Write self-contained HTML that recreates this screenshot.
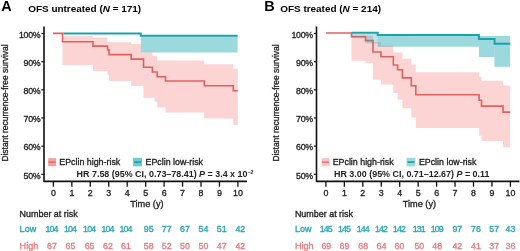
<!DOCTYPE html>
<html><head><meta charset="utf-8"><style>
html,body{margin:0;padding:0;background:#fff;}
svg{display:block;}
text{font-family:"Liberation Sans", Arial, sans-serif;}
</style></head><body>
<svg width="520" height="251" viewBox="0 0 520 251">
<rect width="520" height="251" fill="#fff"/>
<text x="1.3" y="11.4" font-size="14.5" font-weight="bold">A</text>
<text x="28.2" y="12.25" font-size="9.95" font-weight="bold">OFS untreated (<tspan font-style="italic">N</tspan> = 171)</text>
<path d="M62.5 35.7 L93 35.7 L93 37.5 L107.5 37.5 L107.5 42.3 L109 42.3 L109 42.3 L131.2 42.3 L131.2 44 L140.8 44 L140.8 52.5 L143.5 52.5 L143.5 52.5 L152.4 52.5 L152.4 56 L154.5 56 L154.5 56 L157.2 56 L157.2 60.6 L165.5 60.6 L165.5 60.6 L204.3 60.6 L204.3 64.3 L233.3 64.3 L233.3 68.7 L237.8 68.7 L237.8 124.9 L233.3 124.9 L233.3 118.5 L204.3 118.5 L204.3 112.5 L165.5 112.5 L165.5 107.3 L157.2 107.3 L157.2 101.8 L154.5 101.8 L154.5 97.8 L152.4 97.8 L152.4 97.8 L143.5 97.8 L143.5 85.9 L140.8 85.9 L140.8 85.9 L131.2 85.9 L131.2 80.9 L109 80.9 L109 75 L107.5 75 L107.5 70.9 L93 70.9 L93 64.9 L62.5 64.9 Z" fill="#fcd4d4"/>
<path d="M53 33.4 H62.5 V41.7 H93 V46.1 H107.5 V49.7 H109 V54.6 H131.2 V59.1 H143.5 V67.3 H152.4 V72.0 H157.2 V76.8 H165.5 V81.0 H204.3 V85.8 H233.3 V90.8 H237.8" fill="none" stroke="#e0605f" stroke-width="1.6"/>
<rect x="140.8" y="36.5" width="96.80" height="16.00" fill="#1aa6b0" fill-opacity="0.43"/>
<path d="M63.3 33.4 H140.8 V35.7 H237.6" fill="none" stroke="#1ba3ab" stroke-width="2.0"/>
<path d="M44 26.5 V181.4 H247" fill="none" stroke="#111" stroke-width="1.6" stroke-linejoin="round"/>
<path d="M41.3 33.50 H44" stroke="#111" stroke-width="1.2"/>
<text x="40.4" y="37.70" font-size="8.8" letter-spacing="-0.25" text-anchor="end" fill="#222" stroke="#222" stroke-width="0.32">100%</text>
<path d="M41.3 61.66 H44" stroke="#111" stroke-width="1.2"/>
<text x="40.4" y="65.86" font-size="8.8" letter-spacing="-0.25" text-anchor="end" fill="#222" stroke="#222" stroke-width="0.32">90%</text>
<path d="M41.3 89.82 H44" stroke="#111" stroke-width="1.2"/>
<text x="40.4" y="94.02" font-size="8.8" letter-spacing="-0.25" text-anchor="end" fill="#222" stroke="#222" stroke-width="0.32">80%</text>
<path d="M41.3 117.98 H44" stroke="#111" stroke-width="1.2"/>
<text x="40.4" y="122.18" font-size="8.8" letter-spacing="-0.25" text-anchor="end" fill="#222" stroke="#222" stroke-width="0.32">70%</text>
<path d="M41.3 146.14 H44" stroke="#111" stroke-width="1.2"/>
<text x="40.4" y="150.34" font-size="8.8" letter-spacing="-0.25" text-anchor="end" fill="#222" stroke="#222" stroke-width="0.32">60%</text>
<path d="M41.3 174.30 H44" stroke="#111" stroke-width="1.2"/>
<text x="40.4" y="178.50" font-size="8.8" letter-spacing="-0.25" text-anchor="end" fill="#222" stroke="#222" stroke-width="0.32">50%</text>
<path d="M53.40 181.5 V186.7" stroke="#111" stroke-width="1.3"/>
<text x="53.40" y="196" font-size="8.85" text-anchor="middle" fill="#222" stroke="#222" stroke-width="0.32">0</text>
<path d="M71.85 181.5 V186.7" stroke="#111" stroke-width="1.3"/>
<text x="71.85" y="196" font-size="8.85" text-anchor="middle" fill="#222" stroke="#222" stroke-width="0.32">1</text>
<path d="M90.30 181.5 V186.7" stroke="#111" stroke-width="1.3"/>
<text x="90.30" y="196" font-size="8.85" text-anchor="middle" fill="#222" stroke="#222" stroke-width="0.32">2</text>
<path d="M108.75 181.5 V186.7" stroke="#111" stroke-width="1.3"/>
<text x="108.75" y="196" font-size="8.85" text-anchor="middle" fill="#222" stroke="#222" stroke-width="0.32">3</text>
<path d="M127.20 181.5 V186.7" stroke="#111" stroke-width="1.3"/>
<text x="127.20" y="196" font-size="8.85" text-anchor="middle" fill="#222" stroke="#222" stroke-width="0.32">4</text>
<path d="M145.65 181.5 V186.7" stroke="#111" stroke-width="1.3"/>
<text x="145.65" y="196" font-size="8.85" text-anchor="middle" fill="#222" stroke="#222" stroke-width="0.32">5</text>
<path d="M164.10 181.5 V186.7" stroke="#111" stroke-width="1.3"/>
<text x="164.10" y="196" font-size="8.85" text-anchor="middle" fill="#222" stroke="#222" stroke-width="0.32">6</text>
<path d="M182.55 181.5 V186.7" stroke="#111" stroke-width="1.3"/>
<text x="182.55" y="196" font-size="8.85" text-anchor="middle" fill="#222" stroke="#222" stroke-width="0.32">7</text>
<path d="M201.00 181.5 V186.7" stroke="#111" stroke-width="1.3"/>
<text x="201.00" y="196" font-size="8.85" text-anchor="middle" fill="#222" stroke="#222" stroke-width="0.32">8</text>
<path d="M219.45 181.5 V186.7" stroke="#111" stroke-width="1.3"/>
<text x="219.45" y="196" font-size="8.85" text-anchor="middle" fill="#222" stroke="#222" stroke-width="0.32">9</text>
<path d="M237.90 181.5 V186.7" stroke="#111" stroke-width="1.3"/>
<text x="237.90" y="196" font-size="8.85" text-anchor="middle" fill="#222" stroke="#222" stroke-width="0.32">10</text>
<text x="146.9" y="206.55" font-size="9.2" text-anchor="middle" fill="#222" stroke="#222" stroke-width="0.32">Time (y)</text>
<text transform="translate(8.1 103) rotate(-90)" font-size="8.45" text-anchor="middle" fill="#222" stroke="#222" stroke-width="0.32">Distant recurrence-free survival</text>
<rect x="48.2" y="158.1" width="7.8" height="8.1" fill="#f6a0a0"/>
<path d="M49 162.1 H55.2" stroke="#e0605f" stroke-width="1.3" stroke-linecap="round"/>
<text x="59.3" y="165.45" font-size="8.85" fill="#222" stroke="#222" stroke-width="0.32">EPclin high-risk</text>
<rect x="133.1" y="157.8" width="8.9" height="8.6" fill="#6fcbd0"/>
<path d="M134.6 162.1 H140.5" stroke="#1ba3ab" stroke-width="1.6" stroke-linecap="round"/>
<text x="145.5" y="165.45" font-size="8.85" fill="#222" stroke="#222" stroke-width="0.32">EPclin low-risk</text>
<text x="76.6" y="177.1" font-size="8.93" font-weight="bold" fill="#222">HR 7.58 (95% CI, 0.73–78.41) <tspan font-style="italic">P</tspan> = 3.4 x 10<tspan font-size="5.3" dy="-3.4">−2</tspan></text>
<text x="19.6" y="216.9" font-size="8.95" fill="#222" stroke="#222" stroke-width="0.32">Number at risk</text>
<text x="19.6" y="232.3" font-size="9.05" fill="#26a5b1" stroke="#26a5b1" stroke-width="0.32">Low</text>
<text x="19.6" y="248.7" font-size="9.1" fill="#e67b7d" stroke="#e67b7d" stroke-width="0.32">High</text>
<text x="51.449999999999996" y="232.3" font-size="8.85" text-anchor="middle" letter-spacing="-0.9" fill="#26a5b1" stroke="#26a5b1" stroke-width="0.32">104</text>
<text x="70.05" y="232.3" font-size="8.85" text-anchor="middle" letter-spacing="-0.9" fill="#26a5b1" stroke="#26a5b1" stroke-width="0.32">104</text>
<text x="89.14999999999999" y="232.3" font-size="8.85" text-anchor="middle" letter-spacing="-0.9" fill="#26a5b1" stroke="#26a5b1" stroke-width="0.32">104</text>
<text x="107.55" y="232.3" font-size="8.85" text-anchor="middle" letter-spacing="-0.9" fill="#26a5b1" stroke="#26a5b1" stroke-width="0.32">104</text>
<text x="125.55" y="232.3" font-size="8.85" text-anchor="middle" letter-spacing="-0.9" fill="#26a5b1" stroke="#26a5b1" stroke-width="0.32">104</text>
<text x="148.7" y="232.3" font-size="8.85" text-anchor="middle" fill="#26a5b1" stroke="#26a5b1" stroke-width="0.32">95</text>
<text x="166.7" y="232.3" font-size="8.85" text-anchor="middle" fill="#26a5b1" stroke="#26a5b1" stroke-width="0.32">77</text>
<text x="184.9" y="232.3" font-size="8.85" text-anchor="middle" fill="#26a5b1" stroke="#26a5b1" stroke-width="0.32">67</text>
<text x="203.4" y="232.3" font-size="8.85" text-anchor="middle" fill="#26a5b1" stroke="#26a5b1" stroke-width="0.32">54</text>
<text x="221.7" y="232.3" font-size="8.85" text-anchor="middle" fill="#26a5b1" stroke="#26a5b1" stroke-width="0.32">51</text>
<text x="240.3" y="232.3" font-size="8.85" text-anchor="middle" fill="#26a5b1" stroke="#26a5b1" stroke-width="0.32">42</text>
<text x="51.9" y="248.6" font-size="8.85" text-anchor="middle" fill="#e67b7d" stroke="#e67b7d" stroke-width="0.32">67</text>
<text x="70.5" y="248.6" font-size="8.85" text-anchor="middle" fill="#e67b7d" stroke="#e67b7d" stroke-width="0.32">65</text>
<text x="89.6" y="248.6" font-size="8.85" text-anchor="middle" fill="#e67b7d" stroke="#e67b7d" stroke-width="0.32">65</text>
<text x="108" y="248.6" font-size="8.85" text-anchor="middle" fill="#e67b7d" stroke="#e67b7d" stroke-width="0.32">62</text>
<text x="126" y="248.6" font-size="8.85" text-anchor="middle" fill="#e67b7d" stroke="#e67b7d" stroke-width="0.32">61</text>
<text x="148.7" y="248.6" font-size="8.85" text-anchor="middle" fill="#e67b7d" stroke="#e67b7d" stroke-width="0.32">58</text>
<text x="166.7" y="248.6" font-size="8.85" text-anchor="middle" fill="#e67b7d" stroke="#e67b7d" stroke-width="0.32">52</text>
<text x="184.9" y="248.6" font-size="8.85" text-anchor="middle" fill="#e67b7d" stroke="#e67b7d" stroke-width="0.32">50</text>
<text x="203.4" y="248.6" font-size="8.85" text-anchor="middle" fill="#e67b7d" stroke="#e67b7d" stroke-width="0.32">50</text>
<text x="221.7" y="248.6" font-size="8.85" text-anchor="middle" fill="#e67b7d" stroke="#e67b7d" stroke-width="0.32">47</text>
<text x="240.3" y="248.6" font-size="8.85" text-anchor="middle" fill="#e67b7d" stroke="#e67b7d" stroke-width="0.32">42</text>
<text x="264.2" y="11.4" font-size="14.5" font-weight="bold">B</text>
<text x="280.2" y="12.25" font-size="9.95" font-weight="bold">OFS treated (<tspan font-style="italic">N</tspan> = 214)</text>
<path d="M351.5 34.5 L365.5 34.5 L365.5 35.5 L373 35.5 L373 42 L381 42 L381 45.5 L393.3 45.5 L393.3 52.5 L397.6 52.5 L397.6 52.5 L402.4 52.5 L402.4 58.7 L411.3 58.7 L411.3 64.5 L415.8 64.5 L415.8 72.3 L479.1 72.3 L479.1 76.9 L481.5 76.9 L481.5 80.8 L503 80.8 L503 85.5 L510.2 85.5 L510.2 147.5 L503 147.5 L503 141.1 L481.5 141.1 L481.5 135.7 L479.1 135.7 L479.1 127.9 L415.8 127.9 L415.8 117.5 L411.3 117.5 L411.3 108.3 L402.4 108.3 L402.4 99.8 L397.6 99.8 L397.6 93 L393.3 93 L393.3 84.5 L381 84.5 L381 79.8 L373 79.8 L373 63 L365.5 63 L365.5 60.7 L351.5 60.7 Z" fill="#fcd4d4"/>
<path d="M326 33 H351.5 V36.7 H365.5 V40.6 H373 V52 H381 V56.8 H393.3 V65 H397.6 V69.8 H402.4 V77.9 H411.3 V85.8 H415.8 V94.7 H479.1 V100.2 H481.5 V106.1 H503 V112.1 H510.2" fill="none" stroke="#e0605f" stroke-width="1.6"/>
<rect x="351.5" y="33.8" width="14.00" height="4.40" fill="#1aa6b0" fill-opacity="0.22"/>
<rect x="365.5" y="33.8" width="12.20" height="9.70" fill="#1aa6b0" fill-opacity="0.3"/>
<rect x="377.7" y="36" width="101.20" height="10.70" fill="#1aa6b0" fill-opacity="0.43"/>
<rect x="478.9" y="36" width="15.50" height="21.00" fill="#1aa6b0" fill-opacity="0.43"/>
<rect x="494.4" y="36" width="15.80" height="30.80" fill="#1aa6b0" fill-opacity="0.43"/>
<path d="M351.5 32.8 H377.7 V34.9 H478.9 V38.9 H494.6 V43.8 H510.2" fill="none" stroke="#1ba3ab" stroke-width="2.0"/>
<path d="M316.5 26.5 V181.4 H519.5" fill="none" stroke="#111" stroke-width="1.6" stroke-linejoin="round"/>
<path d="M313.8 33.50 H316.5" stroke="#111" stroke-width="1.2"/>
<text x="312.9" y="37.70" font-size="8.8" letter-spacing="-0.25" text-anchor="end" fill="#222" stroke="#222" stroke-width="0.32">100%</text>
<path d="M313.8 61.66 H316.5" stroke="#111" stroke-width="1.2"/>
<text x="312.9" y="65.86" font-size="8.8" letter-spacing="-0.25" text-anchor="end" fill="#222" stroke="#222" stroke-width="0.32">90%</text>
<path d="M313.8 89.82 H316.5" stroke="#111" stroke-width="1.2"/>
<text x="312.9" y="94.02" font-size="8.8" letter-spacing="-0.25" text-anchor="end" fill="#222" stroke="#222" stroke-width="0.32">80%</text>
<path d="M313.8 117.98 H316.5" stroke="#111" stroke-width="1.2"/>
<text x="312.9" y="122.18" font-size="8.8" letter-spacing="-0.25" text-anchor="end" fill="#222" stroke="#222" stroke-width="0.32">70%</text>
<path d="M313.8 146.14 H316.5" stroke="#111" stroke-width="1.2"/>
<text x="312.9" y="150.34" font-size="8.8" letter-spacing="-0.25" text-anchor="end" fill="#222" stroke="#222" stroke-width="0.32">60%</text>
<path d="M313.8 174.30 H316.5" stroke="#111" stroke-width="1.2"/>
<text x="312.9" y="178.50" font-size="8.8" letter-spacing="-0.25" text-anchor="end" fill="#222" stroke="#222" stroke-width="0.32">50%</text>
<path d="M325.90 181.5 V186.7" stroke="#111" stroke-width="1.3"/>
<text x="325.90" y="196" font-size="8.85" text-anchor="middle" fill="#222" stroke="#222" stroke-width="0.32">0</text>
<path d="M344.35 181.5 V186.7" stroke="#111" stroke-width="1.3"/>
<text x="344.35" y="196" font-size="8.85" text-anchor="middle" fill="#222" stroke="#222" stroke-width="0.32">1</text>
<path d="M362.80 181.5 V186.7" stroke="#111" stroke-width="1.3"/>
<text x="362.80" y="196" font-size="8.85" text-anchor="middle" fill="#222" stroke="#222" stroke-width="0.32">2</text>
<path d="M381.25 181.5 V186.7" stroke="#111" stroke-width="1.3"/>
<text x="381.25" y="196" font-size="8.85" text-anchor="middle" fill="#222" stroke="#222" stroke-width="0.32">3</text>
<path d="M399.70 181.5 V186.7" stroke="#111" stroke-width="1.3"/>
<text x="399.70" y="196" font-size="8.85" text-anchor="middle" fill="#222" stroke="#222" stroke-width="0.32">4</text>
<path d="M418.15 181.5 V186.7" stroke="#111" stroke-width="1.3"/>
<text x="418.15" y="196" font-size="8.85" text-anchor="middle" fill="#222" stroke="#222" stroke-width="0.32">5</text>
<path d="M436.60 181.5 V186.7" stroke="#111" stroke-width="1.3"/>
<text x="436.60" y="196" font-size="8.85" text-anchor="middle" fill="#222" stroke="#222" stroke-width="0.32">6</text>
<path d="M455.05 181.5 V186.7" stroke="#111" stroke-width="1.3"/>
<text x="455.05" y="196" font-size="8.85" text-anchor="middle" fill="#222" stroke="#222" stroke-width="0.32">7</text>
<path d="M473.50 181.5 V186.7" stroke="#111" stroke-width="1.3"/>
<text x="473.50" y="196" font-size="8.85" text-anchor="middle" fill="#222" stroke="#222" stroke-width="0.32">8</text>
<path d="M491.95 181.5 V186.7" stroke="#111" stroke-width="1.3"/>
<text x="491.95" y="196" font-size="8.85" text-anchor="middle" fill="#222" stroke="#222" stroke-width="0.32">9</text>
<path d="M510.40 181.5 V186.7" stroke="#111" stroke-width="1.3"/>
<text x="510.40" y="196" font-size="8.85" text-anchor="middle" fill="#222" stroke="#222" stroke-width="0.32">10</text>
<text x="419.4" y="206.55" font-size="9.2" text-anchor="middle" fill="#222" stroke="#222" stroke-width="0.32">Time (y)</text>
<text transform="translate(278.5 103) rotate(-90)" font-size="8.45" text-anchor="middle" fill="#222" stroke="#222" stroke-width="0.32">Distant recurrence-free survival</text>
<rect x="321.59999999999997" y="158.1" width="7.8" height="8.1" fill="#f8c4c4"/>
<path d="M322.4 162.1 H328.59999999999997" stroke="#e0605f" stroke-width="1.3" stroke-linecap="round"/>
<text x="332.7" y="165.45" font-size="8.85" fill="#222" stroke="#222" stroke-width="0.32">EPclin high-risk</text>
<rect x="406.5" y="157.8" width="8.9" height="8.6" fill="#9cdade"/>
<path d="M408.0 162.1 H413.9" stroke="#1ba3ab" stroke-width="1.6" stroke-linecap="round"/>
<text x="418.9" y="165.45" font-size="8.85" fill="#222" stroke="#222" stroke-width="0.32">EPclin low-risk</text>
<text x="334.0" y="177.1" font-size="8.93" font-weight="bold" fill="#222">HR 3.00 (95% CI, 0.71–12.67) <tspan font-style="italic">P</tspan> = 0.11</text>
<text x="294.90000000000003" y="216.9" font-size="8.95" fill="#222" stroke="#222" stroke-width="0.32">Number at risk</text>
<text x="294.90000000000003" y="232.3" font-size="9.05" fill="#26a5b1" stroke="#26a5b1" stroke-width="0.32">Low</text>
<text x="294.90000000000003" y="248.7" font-size="9.1" fill="#e67b7d" stroke="#e67b7d" stroke-width="0.32">High</text>
<text x="325.85" y="232.3" font-size="8.85" text-anchor="middle" letter-spacing="-0.9" fill="#26a5b1" stroke="#26a5b1" stroke-width="0.32">145</text>
<text x="343.95" y="232.3" font-size="8.85" text-anchor="middle" letter-spacing="-0.9" fill="#26a5b1" stroke="#26a5b1" stroke-width="0.32">145</text>
<text x="362.75" y="232.3" font-size="8.85" text-anchor="middle" letter-spacing="-0.9" fill="#26a5b1" stroke="#26a5b1" stroke-width="0.32">144</text>
<text x="380.95" y="232.3" font-size="8.85" text-anchor="middle" letter-spacing="-0.9" fill="#26a5b1" stroke="#26a5b1" stroke-width="0.32">142</text>
<text x="398.95" y="232.3" font-size="8.85" text-anchor="middle" letter-spacing="-0.9" fill="#26a5b1" stroke="#26a5b1" stroke-width="0.32">142</text>
<text x="418.85" y="232.3" font-size="8.85" text-anchor="middle" letter-spacing="-0.9" fill="#26a5b1" stroke="#26a5b1" stroke-width="0.32">131</text>
<text x="436.75" y="232.3" font-size="8.85" text-anchor="middle" letter-spacing="-0.9" fill="#26a5b1" stroke="#26a5b1" stroke-width="0.32">109</text>
<text x="457.3" y="232.3" font-size="8.85" text-anchor="middle" fill="#26a5b1" stroke="#26a5b1" stroke-width="0.32">97</text>
<text x="475.9" y="232.3" font-size="8.85" text-anchor="middle" fill="#26a5b1" stroke="#26a5b1" stroke-width="0.32">76</text>
<text x="494.2" y="232.3" font-size="8.85" text-anchor="middle" fill="#26a5b1" stroke="#26a5b1" stroke-width="0.32">57</text>
<text x="510.5" y="232.3" font-size="8.85" text-anchor="middle" fill="#26a5b1" stroke="#26a5b1" stroke-width="0.32">43</text>
<text x="326.3" y="248.6" font-size="8.85" text-anchor="middle" fill="#e67b7d" stroke="#e67b7d" stroke-width="0.32">69</text>
<text x="344.4" y="248.6" font-size="8.85" text-anchor="middle" fill="#e67b7d" stroke="#e67b7d" stroke-width="0.32">69</text>
<text x="363.2" y="248.6" font-size="8.85" text-anchor="middle" fill="#e67b7d" stroke="#e67b7d" stroke-width="0.32">68</text>
<text x="381.4" y="248.6" font-size="8.85" text-anchor="middle" fill="#e67b7d" stroke="#e67b7d" stroke-width="0.32">64</text>
<text x="399.4" y="248.6" font-size="8.85" text-anchor="middle" fill="#e67b7d" stroke="#e67b7d" stroke-width="0.32">60</text>
<text x="419.3" y="248.6" font-size="8.85" text-anchor="middle" fill="#e67b7d" stroke="#e67b7d" stroke-width="0.32">50</text>
<text x="437.2" y="248.6" font-size="8.85" text-anchor="middle" fill="#e67b7d" stroke="#e67b7d" stroke-width="0.32">48</text>
<text x="457.3" y="248.6" font-size="8.85" text-anchor="middle" fill="#e67b7d" stroke="#e67b7d" stroke-width="0.32">42</text>
<text x="475.9" y="248.6" font-size="8.85" text-anchor="middle" fill="#e67b7d" stroke="#e67b7d" stroke-width="0.32">41</text>
<text x="494.2" y="248.6" font-size="8.85" text-anchor="middle" fill="#e67b7d" stroke="#e67b7d" stroke-width="0.32">37</text>
<text x="510.5" y="248.6" font-size="8.85" text-anchor="middle" fill="#e67b7d" stroke="#e67b7d" stroke-width="0.32">36</text>
</svg>
</body></html>
